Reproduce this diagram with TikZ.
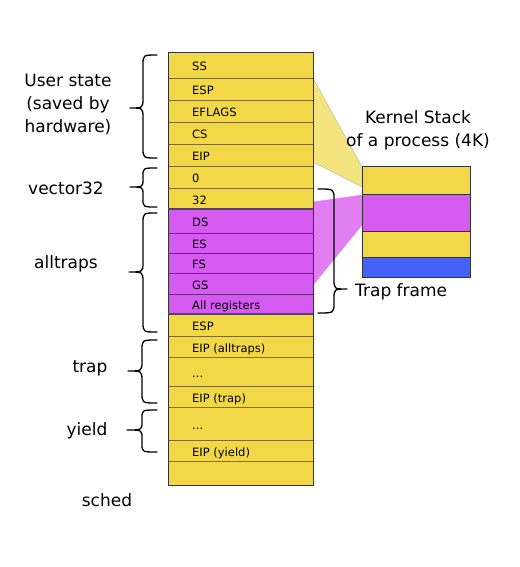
\documentclass[tikz,border=0pt]{standalone}
\usepackage{fontspec}
\setmainfont{DejaVu Sans}
\usepackage{tikz}
\definecolor{slotyellow}{RGB}{242,216,70}
\definecolor{slotpurple}{RGB}{212,90,240}
\definecolor{slotblue}{RGB}{68,98,245}
\definecolor{fanyellow}{RGB}{244,228,128}
\definecolor{fanpurple}{RGB}{224,126,242}
\definecolor{yline}{RGB}{128,110,40}
\definecolor{pline}{RGB}{105,40,125}

\newcommand{\slotdots}{...}
% end x, spine x, tip x, top y, tip y, bottom y, radius
\newcommand{\stackbrace}[7]{%
  \draw[curly] (#1,#4) .. controls (#2,#4) .. (#2,{#4+#7}) -- (#2,{#5-#7})
    .. controls (#2,#5) .. (#3,#5) .. controls (#2,#5) .. (#2,{#5+#7})
    -- (#2,{#6-#7}) .. controls (#2,#6) .. (#1,#6);}

\begin{document}
\begin{tikzpicture}[x=1pt,y=-1pt,
  slottext/.style={anchor=west, inner sep=0pt, font=\fontsize{11.5}{14}\selectfont,
    text height=8.5pt, text depth=2.5pt},
  biglabel/.style={font=\fontsize{17}{23}\selectfont, align=center, inner sep=0pt},
  curly/.style={line width=1.3pt, line cap=round, line join=round},
  kslot/.style={draw=black!80, line width=0.8pt}]
\useasboundingbox (0,0) rectangle (519,567);

% projections onto the kernel stack
\filldraw[fill=fanyellow, draw=black!30, line width=0.4pt]
  (313,78) -- (362,167) -- (362,187) -- (313,162) -- cycle;
\filldraw[fill=fanpurple, draw=fanpurple, line width=0.4pt]
  (313,202) -- (362,195) -- (362,225) -- (313,285) -- cycle;

% the stack
\foreach \t/\b/\txt/\col/\ln [count=\i] in {52/78/SS/slotyellow/yline,
    78/100/ESP/slotyellow/yline, 100/122/EFLAGS/slotyellow/yline,
    122/144/CS/slotyellow/yline, 144/166/EIP/slotyellow/yline,
    166/188/0/slotyellow/yline, 188/209/32/slotyellow/yline,
    209/233/DS/slotpurple/pline, 233/253/ES/slotpurple/pline,
    253/273/FS/slotpurple/pline, 273/294/GS/slotpurple/pline,
    294/314/All registers/slotpurple/pline, 314/336/ESP/slotyellow/yline,
    336/357/EIP (alltraps)/slotyellow/yline, 357/386/\slotdots/slotyellow/yline,
    386/407/EIP (trap)/slotyellow/yline, 407/440/\slotdots/slotyellow/yline,
    440/461/EIP (yield)/slotyellow/yline, 461/485//slotyellow/yline}
{
  \draw[draw=\ln, line width=0.6pt, fill=\col] (168,\t) rectangle (313,\b);
  \node[slottext] (r\i) at (192,{(\t+\b)/2+2.5}) {\txt};
}
\draw[line width=0.9pt, draw=black!80] (168,52) rectangle (313,485);
\draw[line width=1.5pt, draw=black!70] (168,209) -- (313,209) (168,314) -- (313,314);

% kernel stack
\foreach \t/\b/\col in {166/194/slotyellow, 194/231/slotpurple,
    231/257/slotyellow, 257/277/slotblue}
  \draw[kslot, fill=\col] (362,\t) rectangle (470,\b);

% braces
\stackbrace{157}{143}{130}{55}{108}{158}{10}
\stackbrace{157}{143}{130}{168}{187}{207}{8}
\stackbrace{157}{143}{129}{213}{272}{332}{10}
\stackbrace{157}{142}{128}{340}{371}{403}{10}
\stackbrace{157}{142}{127}{410}{430}{452}{8}
\stackbrace{318}{334}{347}{189}{289}{313}{10}

% labels
\node[biglabel] (userstate) at (68,104) {User state\\(saved by\\hardware)};
\node[biglabel] (vector) at (66,188) {vector32};
\node[biglabel] (alltraps) at (66,264) {alltraps};
\node[biglabel] (trap) at (90,368) {trap};
\node[biglabel] (yield) at (87,431) {yield};
\node[biglabel] (sched) at (107,500) {sched};
\node[biglabel, anchor=west] (trapframe) at (355,292) {Trap frame};
\node[biglabel] (kstack) at (418,130) {Kernel Stack\\of a process (4K)};
\end{tikzpicture}
\end{document}
